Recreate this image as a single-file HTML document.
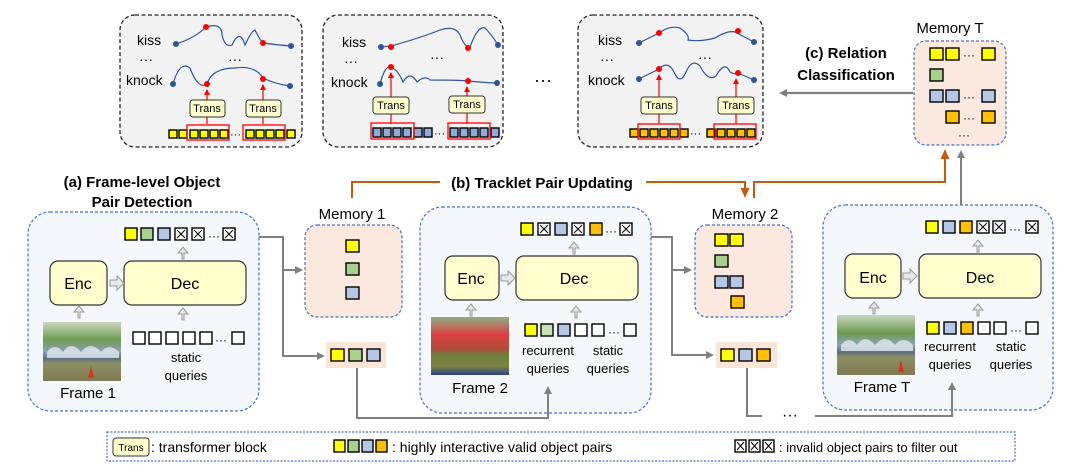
<!DOCTYPE html>
<html><head><meta charset="utf-8"><style>
html,body{margin:0;padding:0;background:#fff}
svg{display:block}
text{font-family:"Liberation Sans",sans-serif;fill:#000}
.b{font-weight:bold}
.sq{stroke:#000;stroke-width:1.4}
</style></head><body>
<svg width="1076" height="473" viewBox="0 0 1076 473" xmlns="http://www.w3.org/2000/svg">
<defs>
<marker id="ga" markerWidth="8" markerHeight="8" refX="6" refY="4" orient="auto" markerUnits="userSpaceOnUse"><path d="M0,0 L8,4 L0,8 z" fill="#808080"/></marker>
<marker id="oa" markerWidth="10" markerHeight="9" refX="8" refY="4.5" orient="auto" markerUnits="userSpaceOnUse"><path d="M0,0 L10,4.5 L0,9 z" fill="#c55a11"/></marker>
<marker id="ra" markerWidth="6" markerHeight="6" refX="5" refY="3" orient="auto" markerUnits="userSpaceOnUse"><path d="M0,0 L6,3 L0,6 z" fill="#f00"/></marker>
<linearGradient id="ph1" x1="0" y1="0" x2="0" y2="1"><stop offset="0" stop-color="#c9d8c0"/><stop offset="0.3" stop-color="#6f9a4f"/><stop offset="0.5" stop-color="#8aa3b8"/><stop offset="0.62" stop-color="#5d6f7c"/><stop offset="0.7" stop-color="#8c8f63"/><stop offset="1" stop-color="#7f7a52"/></linearGradient>
<linearGradient id="ph2" x1="0" y1="0" x2="0" y2="1"><stop offset="0" stop-color="#8fae86"/><stop offset="0.3" stop-color="#d94040"/><stop offset="0.55" stop-color="#b04a3a"/><stop offset="0.65" stop-color="#6e7d3c"/><stop offset="0.85" stop-color="#7b8442"/><stop offset="1" stop-color="#2e3f8a"/></linearGradient>
</defs>

<!-- top panels -->
<g fill="#f2f2f2" stroke="#222" stroke-width="1.3" stroke-dasharray="4,2.5">
<rect x="120" y="15" width="182" height="132" rx="15"/>
<rect x="323" y="15" width="180" height="132" rx="15"/>
<rect x="578" y="15" width="185" height="132" rx="15"/>
</g>
<text x="543" y="86" font-size="18" text-anchor="middle">···</text>

<!-- panel 1 -->
<g font-size="14">
<text x="137" y="45">kiss</text><text x="139" y="64">···</text><text x="126" y="85">knock</text>
<text x="228" y="64">···</text>
</g>
<g fill="none" stroke="#2f5597" stroke-width="1.2">
<path d="M176,44 Q195,38 206,27 Q222,22 222,35 Q225,48 232,45 Q240,28 245,45 Q252,30 255,30 Q260,40 263,43 Q278,45 291,46"/>
<path d="M173,84 Q180,60 190,68 Q198,90 207,84 Q212,68 235,68 Q255,65 263,78 Q275,84 290,86"/>
</g>
<g fill="#2f5597"><circle cx="176" cy="44" r="3"/><circle cx="291" cy="46" r="3"/><circle cx="173" cy="84" r="3"/><circle cx="290" cy="86" r="3"/></g>
<g fill="#f00"><circle cx="206" cy="27" r="3"/><circle cx="263" cy="43" r="3"/><circle cx="207" cy="84" r="3"/><circle cx="263" cy="79" r="3"/></g>

<!-- panel 2 -->
<g font-size="14">
<text x="342" y="47">kiss</text><text x="344" y="66">···</text><text x="331" y="87">knock</text>
<text x="430" y="62">···</text>
</g>
<g fill="none" stroke="#2f5597" stroke-width="1.2">
<path d="M381,47 L391,46 Q420,38 440,30 Q455,25 460,35 Q465,48 470,47 Q478,25 485,28 Q492,35 498,45"/>
<path d="M380,84 Q385,65 391,67 Q398,70 403,82 Q410,70 417,82 Q425,75 430,80 Q460,80 468,81 Q490,83 497,83"/>
</g>
<g fill="#2f5597"><circle cx="381" cy="47" r="3"/><circle cx="498" cy="45" r="3"/><circle cx="380" cy="84" r="3"/><circle cx="497" cy="83" r="3"/></g>
<g fill="#f00"><circle cx="391" cy="47" r="3"/><circle cx="468" cy="48" r="3"/><circle cx="391" cy="67" r="3"/><circle cx="468" cy="81" r="3"/></g>

<!-- panel 3 -->
<g font-size="14">
<text x="598" y="45">kiss</text><text x="600" y="64">···</text><text x="588" y="85">knock</text>
<text x="698" y="62">···</text>
</g>
<g fill="none" stroke="#2f5597" stroke-width="1.2">
<path d="M639,43 L659,33 Q670,25 680,28 Q690,35 688,40 Q700,42 715,38 Q728,30 735,32 L754,42"/>
<path d="M639,79 L659,69 Q668,60 674,72 Q680,86 686,72 Q692,58 700,66 Q708,82 716,76 Q725,60 730,72 Q735,75 738,73 L754,80"/>
</g>
<g fill="#2f5597"><circle cx="639" cy="43" r="3"/><circle cx="754" cy="42" r="3"/><circle cx="639" cy="79" r="3"/><circle cx="754" cy="80" r="3"/></g>
<g fill="#f00"><circle cx="659" cy="33" r="3"/><circle cx="738" cy="31" r="3"/><circle cx="659" cy="69" r="3"/><circle cx="738" cy="73" r="3"/></g>

<!-- trans boxes & red arrows -->
<g stroke="#f00" stroke-width="1.2">
<line x1="207" y1="124" x2="207" y2="90" marker-end="url(#ra)"/>
<line x1="263" y1="124" x2="263" y2="85" marker-end="url(#ra)"/>
<line x1="391" y1="124" x2="391" y2="73" marker-end="url(#ra)"/>
<line x1="467" y1="124" x2="467" y2="87" marker-end="url(#ra)"/>
<line x1="659" y1="124" x2="659" y2="75" marker-end="url(#ra)"/>
<line x1="736" y1="124" x2="736" y2="79" marker-end="url(#ra)"/>
</g>
<g fill="#ffffcc" stroke="#333" stroke-width="1">
<rect x="190" y="100" width="35" height="17" rx="3"/><rect x="246" y="100" width="35" height="17" rx="3"/>
<rect x="373" y="97" width="36" height="17" rx="3"/><rect x="449" y="96" width="36" height="17" rx="3"/>
<rect x="641" y="97" width="36" height="17" rx="3"/><rect x="718" y="97" width="36" height="17" rx="3"/>
</g>
<g font-size="11" text-anchor="middle">
<text x="207" y="112">Trans</text><text x="263" y="112">Trans</text>
<text x="391" y="109">Trans</text><text x="467" y="108">Trans</text>
<text x="659" y="109">Trans</text><text x="736" y="109">Trans</text>
</g>

<!-- bottom squares rows top panels -->
<g class="sq" stroke-width="1.1" fill="#ffff00">
<rect x="169" y="130" width="8" height="8"/><rect x="179" y="130" width="8" height="8"/><rect x="190" y="130" width="8" height="8"/><rect x="200" y="130" width="8" height="8"/><rect x="210" y="130" width="8" height="8"/><rect x="220" y="130" width="8" height="8"/>
<rect x="246" y="130" width="8" height="8"/><rect x="256" y="130" width="8" height="8"/><rect x="266" y="130" width="8" height="8"/><rect x="276" y="130" width="8" height="8"/><rect x="287" y="130" width="8" height="8"/>
</g>
<g class="sq" stroke-width="1.1" fill="#8faadc">
<rect x="373" y="128" width="8" height="9"/><rect x="383" y="128" width="8" height="9"/><rect x="393" y="128" width="8" height="9"/><rect x="403" y="128" width="8" height="9"/><rect x="414" y="128" width="8" height="9"/><rect x="424" y="128" width="8" height="9"/>
<rect x="450" y="128" width="8" height="9"/><rect x="460" y="128" width="8" height="9"/><rect x="470" y="128" width="8" height="9"/><rect x="480" y="128" width="8" height="9"/><rect x="491" y="128" width="8" height="9"/>
</g>
<g class="sq" stroke-width="1.1" fill="#ffc000">
<rect x="630" y="129" width="8" height="8"/><rect x="640" y="129" width="8" height="8"/><rect x="650" y="129" width="8" height="8"/><rect x="660" y="129" width="8" height="8"/><rect x="670" y="129" width="8" height="8"/><rect x="680" y="129" width="8" height="8"/>
<rect x="707" y="129" width="8" height="8"/><rect x="717" y="129" width="8" height="8"/><rect x="727" y="129" width="8" height="8"/><rect x="737" y="129" width="8" height="8"/><rect x="747" y="129" width="8" height="8"/>
</g>
<g font-size="11"><text x="230" y="138">···</text><text x="434" y="137">···</text><text x="690" y="137">···</text></g>
<g fill="none" stroke="#f00" stroke-width="1.3">
<rect x="187" y="125" width="42" height="15"/><rect x="243" y="125" width="42" height="15"/>
<rect x="371" y="123" width="43" height="16"/><rect x="448" y="123" width="42" height="16"/>
<rect x="638" y="124" width="42" height="15"/><rect x="714" y="124" width="42" height="15"/>
</g>

<!-- Memory T -->
<text x="950" y="33" font-size="15" text-anchor="middle">Memory T</text>
<rect x="914" y="41" width="92" height="104" rx="12" fill="#fbe9e0" stroke="#4472c4" stroke-width="1.2" stroke-dasharray="3,2"/>
<g class="sq">
<rect x="930" y="48" width="13" height="12" fill="#ff0"/><rect x="946" y="48" width="13" height="12" fill="#ff0"/><rect x="982" y="48" width="13" height="12" fill="#ff0"/>
<rect x="930" y="69" width="13" height="12" fill="#a9d18e"/>
<rect x="930" y="90" width="13" height="12" fill="#b4c7e7"/><rect x="946" y="90" width="13" height="12" fill="#b4c7e7"/><rect x="982" y="90" width="13" height="12" fill="#b4c7e7"/>
<rect x="946" y="111" width="13" height="12" fill="#ffc000"/><rect x="982" y="111" width="13" height="12" fill="#ffc000"/>
</g>
<g font-size="12"><text x="963" y="59">···</text><text x="963" y="101">···</text><text x="963" y="122">···</text><text x="958" y="139">···</text></g>
<text x="846" y="58" font-size="15" class="b" text-anchor="middle">(c) Relation</text>
<text x="846" y="80" font-size="15" class="b" text-anchor="middle">Classification</text>
<line x1="913" y1="93" x2="781" y2="93" stroke="#808080" stroke-width="2.2" marker-end="url(#ga)"/>

<!-- titles -->
<text x="142" y="187" font-size="15" class="b" text-anchor="middle">(a) Frame-level Object</text>
<text x="142" y="207" font-size="15" class="b" text-anchor="middle">Pair Detection</text>
<text x="542" y="188" font-size="15" class="b" text-anchor="middle">(b) Tracklet Pair Updating</text>

<!-- orange lines -->
<g fill="none" stroke="#c55a11" stroke-width="2">
<polyline points="352,198 352,182 440,182"/>
<polyline points="646,182 745,182 745,196" marker-end="url(#oa)"/>
<polyline points="754,198 754,182 945,182 945,151" marker-end="url(#oa)"/>
</g>

<!-- frame panels -->
<g fill="#f4f7fc" stroke="#4472c4" stroke-width="1.2" stroke-dasharray="3,2">
<rect x="28" y="212" width="231" height="199" rx="22"/>
<rect x="420" y="207" width="231" height="206" rx="22"/>
<rect x="823" y="205" width="230" height="205" rx="22"/>
</g>

<!-- gray connectors -->
<g fill="none" stroke="#808080" stroke-width="2">
<polyline points="259,237 283,237 283,270 301,270" marker-end="url(#ga)"/>
<polyline points="283,270 283,356 323,356" marker-end="url(#ga)"/>
<polyline points="357,368 357,418 548,418 548,388" marker-end="url(#ga)"/>
<polyline points="651,237 672,237 672,270 690,270" marker-end="url(#ga)"/>
<polyline points="672,270 672,355 712,355" marker-end="url(#ga)"/>
<polyline points="747,368 747,416 762,416"/>
<polyline points="815,416 952,416 952,384" marker-end="url(#ga)"/>
<polyline points="961,205 961,152" marker-end="url(#ga)"/>
</g>
<text x="790" y="420" font-size="16" text-anchor="middle">···</text>

<!-- Panel 1 contents -->
<g fill="#fffecc" stroke="#333" stroke-width="1.2">
<rect x="50" y="261" width="57" height="44" rx="8"/><rect x="124" y="261" width="122" height="44" rx="8"/>
<rect x="445" y="256" width="54" height="44" rx="8"/><rect x="516" y="256" width="122" height="44" rx="8"/>
<rect x="845" y="254" width="56" height="44" rx="8"/><rect x="919" y="254" width="122" height="44" rx="8"/>
</g>
<g font-size="16" text-anchor="middle">
<text x="78" y="289">Enc</text><text x="185" y="289">Dec</text>
<text x="471" y="284">Enc</text><text x="574" y="284">Dec</text>
<text x="873" y="283">Enc</text><text x="980" y="283">Dec</text>
</g>
<!-- hollow arrows -->
<g fill="#e8e8e8" stroke="#999" stroke-width="1">
<path d="M110,280 h7 v-4 l7,7 -7,7 v-4 h-7z"/>
<path d="M78,318 v-6 h-4 l5,-6 5,6 h-4 v6z"/>
<path d="M182,320 v-6 h-4 l5,-6 5,6 h-4 v6z"/>
<path d="M182,259 v-6 h-4 l5,-6 5,6 h-4 v6z"/>
<path d="M501,275 h7 v-4 l7,7 -7,7 v-4 h-7z"/>
<path d="M470,316 v-6 h-4 l5,-6 5,6 h-4 v6z"/>
<path d="M575,318 v-6 h-4 l5,-6 5,6 h-4 v6z"/>
<path d="M573,254 v-6 h-4 l5,-6 5,6 h-4 v6z"/>
<path d="M903,273 h7 v-4 l7,7 -7,7 v-4 h-7z"/>
<path d="M873,314 v-6 h-4 l5,-6 5,6 h-4 v6z"/>
<path d="M977,316 v-6 h-4 l5,-6 5,6 h-4 v6z"/>
<path d="M977,252 v-6 h-4 l5,-6 5,6 h-4 v6z"/>
</g>
<!-- photos -->
<rect x="43" y="322" width="78" height="59" fill="url(#ph1)"/>
<path d="M47,352 q8,-10 16,0 q8,-12 18,0 q10,-12 20,0 q8,-10 18,0 v6 h-72z" fill="#e3e8ee" opacity="0.8"/>
<path d="M88,378 l3,-12 3,12z" fill="#e03020"/>
<rect x="431" y="317" width="78" height="58" fill="url(#ph2)"/>
<rect x="837" y="315" width="78" height="60" fill="url(#ph1)"/>
<path d="M841,345 q8,-10 16,0 q8,-12 18,0 q10,-12 20,0 q8,-10 18,0 v6 h-72z" fill="#e3e8ee" opacity="0.8"/>
<path d="M898,372 l3,-12 3,12z" fill="#e03020"/>
<g font-size="15" text-anchor="middle"><text x="88" y="398">Frame 1</text><text x="480" y="393">Frame 2</text><text x="882" y="392">Frame T</text></g>
<g font-size="13" text-anchor="middle">
<text x="186" y="362">static</text><text x="186" y="380">queries</text>
<text x="548" y="355">recurrent</text><text x="548" y="373">queries</text><text x="608" y="355">static</text><text x="608" y="373">queries</text>
<text x="950" y="351">recurrent</text><text x="950" y="369">queries</text><text x="1011" y="351">static</text><text x="1011" y="369">queries</text>
</g>

<!-- output rows -->
<g class="sq">
<rect x="125" y="228" width="12" height="12" fill="#ff0"/><rect x="141" y="228" width="12" height="12" fill="#a9d18e"/><rect x="158" y="228" width="12" height="12" fill="#b4c7e7"/><rect x="175" y="228" width="12" height="12" fill="#fff"/><rect x="192" y="228" width="12" height="12" fill="#fff"/><rect x="223" y="228" width="12" height="12" fill="#fff"/>
<rect x="133" y="332" width="12" height="12" fill="#fff"/><rect x="149" y="332" width="12" height="12" fill="#fff"/><rect x="166" y="332" width="12" height="12" fill="#fff"/><rect x="183" y="332" width="12" height="12" fill="#fff"/><rect x="200" y="332" width="12" height="12" fill="#fff"/><rect x="232" y="332" width="12" height="12" fill="#fff"/>

<rect x="521" y="223" width="12" height="12" fill="#ff0"/><rect x="538" y="223" width="12" height="12" fill="#fff"/><rect x="555" y="223" width="12" height="12" fill="#b4c7e7"/><rect x="572" y="223" width="12" height="12" fill="#fff"/><rect x="590" y="223" width="12" height="12" fill="#ffc000"/><rect x="620" y="223" width="12" height="12" fill="#fff"/>
<rect x="525" y="324" width="12" height="12" fill="#ff0"/><rect x="541" y="324" width="12" height="12" fill="#c5e0b4"/><rect x="558" y="324" width="12" height="12" fill="#b4c7e7"/><rect x="575" y="324" width="12" height="12" fill="#fff"/><rect x="592" y="324" width="12" height="12" fill="#fff"/><rect x="624" y="324" width="12" height="12" fill="#fff"/>

<rect x="926" y="221" width="12" height="12" fill="#ff0"/><rect x="943" y="221" width="12" height="12" fill="#b4c7e7"/><rect x="960" y="221" width="12" height="12" fill="#ffc000"/><rect x="977" y="221" width="12" height="12" fill="#fff"/><rect x="993" y="221" width="12" height="12" fill="#fff"/><rect x="1026" y="221" width="12" height="12" fill="#fff"/>
<rect x="927" y="322" width="12" height="12" fill="#ff0"/><rect x="944" y="322" width="12" height="12" fill="#b4c7e7"/><rect x="961" y="322" width="12" height="12" fill="#ffc000"/><rect x="978" y="322" width="12" height="12" fill="#fff"/><rect x="994" y="322" width="12" height="12" fill="#fff"/><rect x="1026" y="322" width="12" height="12" fill="#fff"/>
</g>
<g stroke="#000" stroke-width="1">
<path d="M177,230 l8,8 M185,230 l-8,8 M194,230 l8,8 M202,230 l-8,8 M225,230 l8,8 M233,230 l-8,8"/>
<path d="M540,225 l8,8 M548,225 l-8,8 M574,225 l8,8 M582,225 l-8,8 M622,225 l8,8 M630,225 l-8,8"/>
<path d="M979,223 l8,8 M987,223 l-8,8 M995,223 l8,8 M1003,223 l-8,8 M1028,223 l8,8 M1036,223 l-8,8"/>
</g>
<g font-size="12"><text x="208" y="240">···</text><text x="605" y="235">···</text><text x="1009" y="233">···</text>
<text x="215" y="344">···</text><text x="608" y="336">···</text><text x="1010" y="334">···</text></g>

<!-- memory 1 & 2 -->
<g font-size="15" text-anchor="middle"><text x="352" y="219">Memory 1</text><text x="745" y="219">Memory 2</text></g>
<g fill="#fbe9e0" stroke="#4472c4" stroke-width="1.2" stroke-dasharray="3,2">
<rect x="305" y="225" width="97" height="92" rx="12"/><rect x="695" y="225" width="97" height="92" rx="12"/>
</g>
<rect x="326" y="342" width="60" height="26" fill="#fbe5d6"/><rect x="716" y="342" width="61" height="26" fill="#fbe5d6"/>
<g class="sq">
<rect x="346" y="240" width="13" height="12" fill="#ff0"/><rect x="346" y="263" width="13" height="12" fill="#a9d18e"/><rect x="346" y="287" width="13" height="12" fill="#b4c7e7"/>
<rect x="331" y="349" width="13" height="12" fill="#ff0"/><rect x="349" y="349" width="13" height="12" fill="#a9d18e"/><rect x="367" y="349" width="13" height="12" fill="#b4c7e7"/>
<rect x="715" y="234" width="13" height="12" fill="#ff0"/><rect x="730" y="234" width="13" height="12" fill="#ff0"/>
<rect x="715" y="255" width="13" height="12" fill="#a9d18e"/>
<rect x="715" y="276" width="13" height="12" fill="#b4c7e7"/><rect x="730" y="276" width="13" height="12" fill="#b4c7e7"/>
<rect x="731" y="296" width="13" height="12" fill="#ffc000"/>
<rect x="721" y="349" width="13" height="12" fill="#ff0"/><rect x="739" y="349" width="13" height="12" fill="#b4c7e7"/><rect x="757" y="349" width="13" height="12" fill="#ffc000"/>
</g>

<!-- legend -->
<rect x="107" y="432" width="908" height="29" fill="none" stroke="#4472c4" stroke-width="1.2" stroke-dasharray="2,1.5"/>
<rect x="113" y="438" width="36" height="18" rx="3" fill="#ffffcc" stroke="#333"/>
<text x="131" y="451" font-size="10" text-anchor="middle">Trans</text>
<text x="151" y="452" font-size="14">: transformer block</text>
<g class="sq">
<rect x="334" y="440" width="11" height="12" fill="#ff0"/><rect x="348" y="440" width="11" height="12" fill="#a9d18e"/><rect x="362" y="440" width="11" height="12" fill="#b4c7e7"/><rect x="376" y="440" width="11" height="12" fill="#ffc000"/>
<rect x="735" y="440" width="11" height="12" fill="#fff"/><rect x="749" y="440" width="11" height="12" fill="#fff"/><rect x="763" y="440" width="11" height="12" fill="#fff"/>
</g>
<path d="M737,442 l7,8 M744,442 l-7,8 M751,442 l7,8 M758,442 l-7,8 M765,442 l7,8 M772,442 l-7,8" stroke="#000"/>
<text x="392" y="452" font-size="14">: highly interactive valid object pairs</text>
<text x="779" y="452" font-size="13">: invalid object pairs to filter out</text>
</svg>
</body></html>
